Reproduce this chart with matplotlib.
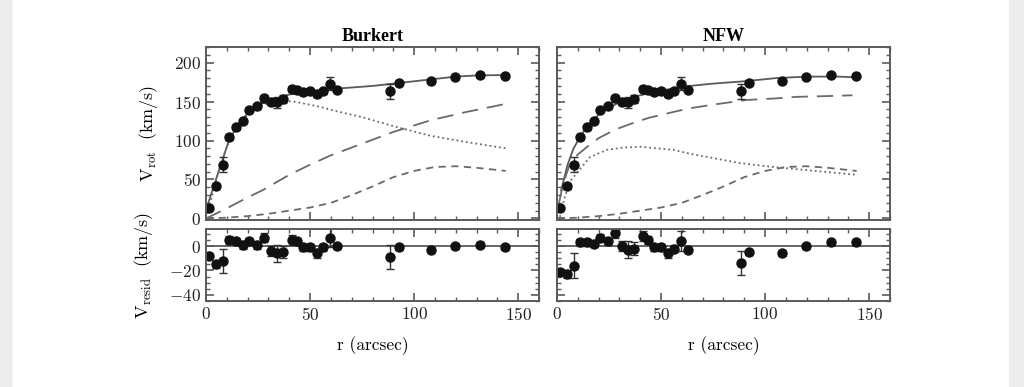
import numpy as np
import matplotlib
matplotlib.use("Agg")
import matplotlib.pyplot as plt
from matplotlib.ticker import MultipleLocator

plt.rcParams['font.family'] = ['cmr10', 'DejaVu Serif']
plt.rcParams['mathtext.fontset'] = 'cm'
plt.rcParams['axes.formatter.use_mathtext'] = True

# observed rotation curve (same data in both panels)
r_obs = [1.4, 4.6, 8.3, 11.2, 14.6, 17.9, 20.8, 24.4, 27.9, 31.1, 34.0, 37.2, 41.2,
         43.6, 46.8, 50.0, 53.2, 56.4, 59.6, 62.8, 88.5, 92.5, 108.0, 119.7, 131.7, 143.8]
v_obs = [14, 41, 69, 104, 117, 125, 139, 144, 154, 149, 149, 153, 166,
         165, 162, 163, 160, 163, 173, 165, 163, 174, 176, 182, 184, 183]
v_err = [2, 3, 10, 3, 3, 3, 3, 3, 4, 4, 7, 5, 4,
         3, 3, 3, 4, 3, 8, 2, 10, 2, 2, 2, 2, 2]

# residuals
res_burkert = [-8, -15, -12, 5, 4, 1, 4, 1, 7, -4, -6, -5, 5,
               4, -1, -1, -6, -1, 7, 0, -9, -1, -3, 0, 1, -1]
res_nfw = [-21, -23, -16, 3, 3, 2, 7, 4, 11, 0, -3, -2, 8,
           5, -1, -1, -6, -2, 4, -3, -14, -5, -6, 0, 3, 3]

# Burkert model curves
bk_tot_r = [1, 5, 8, 11, 15, 20, 25, 30, 35, 40, 45, 50, 55, 60, 70, 80, 90, 100, 110, 120, 130, 144]
bk_tot_v = [19, 52, 76, 100, 119, 135, 145, 151, 155, 159, 161, 163, 164, 166, 168, 170, 173, 176, 179, 182, 183.5, 184]
bk_disk_r = [0, 3, 6, 10, 15, 20, 25, 30, 36, 42, 48, 55, 62, 75, 92, 108, 124, 144]
bk_disk_v = [0, 30, 60, 92, 118, 133, 143, 148, 151, 150, 147, 143, 138, 130, 117, 106, 98.5, 90]
bk_halo_r = [0, 10, 20, 27, 40, 50, 60, 75, 90, 108, 124, 144]
bk_halo_v = [0, 13, 27, 36, 56, 69, 81, 96, 111, 126, 136, 147]

# gas
gas_r = [0, 10, 20, 30, 40, 50, 60, 70, 80, 90, 100, 110, 120, 130, 144]
gas_v = [0, 1, 3, 6, 10, 14, 20, 30, 41, 53, 61, 66, 67, 65, 61]

# NFW model curves
nfw_tot_r = [2, 5, 8, 11, 15, 20, 25, 30, 40, 50, 60, 75, 90, 105, 120, 135, 144]
nfw_tot_v = [36, 68, 90, 104, 120, 133, 142, 149, 158, 164, 169, 173, 176, 180, 182, 182, 181]
nfw_disk_r = [1.4, 4, 7, 10, 16, 24, 32, 40, 48, 56, 64, 72, 88, 104, 120, 144]
nfw_disk_v = [2, 30, 50, 60, 79, 88, 91, 92, 90, 88, 83, 79, 71, 66, 62, 56]
nfw_halo_r = [1, 3, 6, 10, 15, 20, 28, 35, 44, 55, 63, 75, 91, 105, 115, 130, 142]
nfw_halo_v = [20, 45, 68, 82, 93, 103, 114, 121, 129, 136, 141, 146, 152, 154, 156, 157, 158]

fig = plt.figure(figsize=(10.24, 3.87), dpi=100)
fig.patch.set_facecolor('white')
# page edges
fig.patches.append(plt.Rectangle((0, 0), 0.011, 1, transform=fig.transFigure,
                                 color='#ececec', zorder=0))
fig.patches.append(plt.Rectangle((0.985, 0), 0.015, 1, transform=fig.transFigure,
                                 color='#ececec', zorder=0))

grey = '#5a5a5a'
lefts = [0.2012, 0.5439]
w = 0.3252
titles = ['Burkert', 'NFW']
models = [
    (bk_tot_r, bk_tot_v, bk_disk_r, bk_disk_v, bk_halo_r, bk_halo_v, res_burkert),
    (nfw_tot_r, nfw_tot_v, nfw_disk_r, nfw_disk_v, nfw_halo_r, nfw_halo_v, res_nfw),
]


def style(ax, ymaj, ymin):
    ax.xaxis.set_major_locator(MultipleLocator(50))
    ax.xaxis.set_minor_locator(MultipleLocator(10))
    ax.yaxis.set_major_locator(MultipleLocator(ymaj))
    ax.yaxis.set_minor_locator(MultipleLocator(ymin))
    ax.tick_params(which='both', direction='in', top=True, right=True,
                   color=grey, labelsize=12.5, labelcolor='#222222')
    ax.tick_params(which='major', length=6, width=1.2)
    ax.tick_params(which='minor', length=3, width=1.0)
    for s in ax.spines.values():
        s.set_color(grey)
        s.set_linewidth(1.4)


for i in range(2):
    tr, tv, dr, dv, hr, hv, res = models[i]
    ax = fig.add_axes([lefts[i], 0.4315, w, 0.4471])
    axr = fig.add_axes([lefts[i], 0.2222, w, 0.1861])

    ax.plot(tr, tv, '-', color=grey, lw=1.3)
    ax.plot(dr, dv, ':', color='#6a6a6a', lw=1.3)
    ax.plot(hr, hv, '-', color='#6a6a6a', lw=1.3, dashes=(9, 5))
    ax.plot(gas_r, gas_v, '-', color='#6a6a6a', lw=1.3, dashes=(4, 3))
    ax.errorbar(r_obs, v_obs, yerr=v_err, fmt='o', color='#111111', ms=6.5,
                ecolor='#333333', elinewidth=1.0, capsize=3, capthick=1.0)
    ax.set_xlim(0, 160)
    ax.set_ylim(-2, 220)
    style(ax, 50, 10)
    ax.set_xticklabels([])
    ax.set_title(titles[i], fontfamily='Liberation Serif', fontweight='bold',
                 fontsize=13, pad=4)

    axr.axhline(0, color=grey, lw=1.3)
    axr.errorbar(r_obs, res, yerr=v_err, fmt='o', color='#111111', ms=6.5,
                 ecolor='#333333', elinewidth=1.0, capsize=3, capthick=1.0)
    axr.set_xlim(0, 160)
    axr.set_ylim(-45, 14)
    style(axr, 20, 5)
    axr.set_xlabel('r (arcsec)', fontsize=12.5, labelpad=10)

    if i == 0:
        ax.set_ylabel(r'$\mathrm{V_{rot}\ \ (km/s)}$', fontsize=13, labelpad=10)
        axr.set_ylabel(r'$\mathrm{V_{resid}\ \ (km/s)}$', fontsize=13, labelpad=10)
    else:
        ax.set_yticklabels([])
        axr.set_yticklabels([])

fig.savefig('out.png', dpi=100)
